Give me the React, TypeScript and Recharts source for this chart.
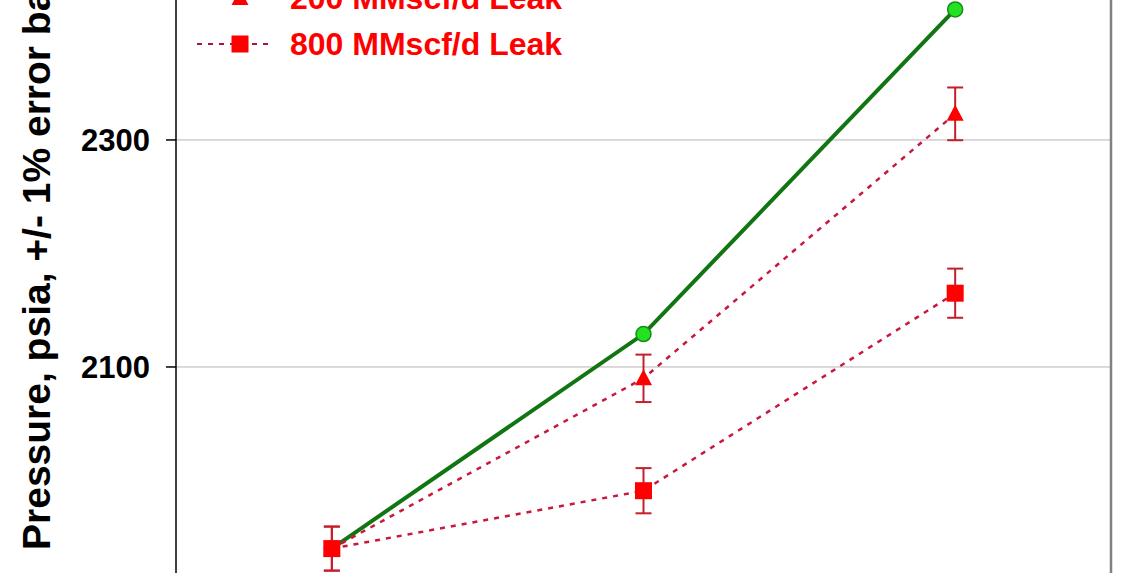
import React from "react";
import {
  LineChart,
  Line,
  XAxis,
  YAxis,
  CartesianGrid,
  ErrorBar,
  Legend,
  ReferenceLine,
} from "recharts";

// x positions of the three cases (axis itself is cropped out of the picture)
const xPositions = [1, 2, 3];
const seriesNames = ["No Leak", "200 MMscf/d Leak", "800 MMscf/d Leak"];
const noLeak = [1940, 2129, 2415];
const leak200 = [1940, 2090, 2323];
const leak800 = [1940, 1991, 2165];
const yTicks = [2100, 2300];
const errorPct = 0.01; // "+/- 1% error bars"

const data = xPositions.map((x, i) => ({
  x,
  noLeak: noLeak[i],
  leak200: leak200[i],
  leak800: leak800[i],
  err200: leak200[i] * errorPct,
  err800: leak800[i] * errorPct,
}));

const FONT = "Arial, 'Liberation Sans', sans-serif";
const GREEN = "#117511";
const RED = "#ff0000";
const RED_LINE = "#c8183e";
const BAR = "#c41e2c";
const DASH = "5 6";

const Circle = ({ cx, cy }: any) => (
  <circle cx={cx} cy={cy} r={7.5} fill="#22e222" stroke="#1a8a1a" strokeWidth={1.5} />
);
const Triangle = ({ cx, cy }: any) => (
  <polygon
    points={`${cx},${cy - 9} ${cx - 8.5},${cy + 7} ${cx + 8.5},${cy + 7}`}
    fill={RED}
  />
);
const Square = ({ cx, cy }: any) => (
  <rect x={cx - 8.5} y={cy - 8.5} width={17} height={17} fill={RED} />
);

const legendRows = [
  { name: seriesNames[0], stroke: GREEN, dash: undefined, width: 4, Marker: Circle },
  { name: seriesNames[1], stroke: "#a8144a", dash: DASH, width: 2, Marker: Triangle },
  { name: seriesNames[2], stroke: "#a8144a", dash: DASH, width: 2, Marker: Square },
];

const renderLegend = () => (
  <svg width={600} height={80} style={{ overflow: "visible" }}>
    {legendRows.map((r, i) => {
      const y = -48 + i * 46;
      return (
        <g key={r.name}>
          <line x1={197} x2={274} y1={y} y2={y} stroke={r.stroke} strokeWidth={r.width} strokeDasharray={r.dash} />
          <r.Marker cx={240} cy={y} />
          <text x={290} y={y + 11} fill={RED} fontSize={32} fontWeight="bold" fontFamily={FONT}>
            {r.name}
          </text>
        </g>
      );
    })}
  </svg>
);

const YLabel = () => (
  <text
    x={50}
    y={550}
    transform="rotate(-90, 50, 550)"
    textAnchor="start"
    fontSize={39}
    fontWeight="bold"
    fontFamily={FONT}
    fill="#000"
  >
    Pressure, psia, +/- 1% error bars
  </text>
);

export default function App() {
  return (
    <div
      style={{
        position: "absolute",
        left: 0,
        top: 0,
        width: 1145,
        height: 573,
        overflow: "hidden",
        background: "#fff",
      }}
    >
      <LineChart
        width={1145}
        height={573}
        data={data}
        margin={{ top: 0, right: 34, bottom: 0, left: 0 }}
      >
        <CartesianGrid vertical={false} horizontalValues={yTicks} stroke="#b4b4b4" strokeWidth={1} />
        <XAxis dataKey="x" type="number" domain={[0.5, 3.5]} hide />
        <YAxis
          type="number"
          domain={[1918.5, 2423.3]}
          ticks={yTicks}
          allowDataOverflow
          width={176}
          stroke="#000"
          strokeWidth={1.5}
          tickSize={10}
          tickMargin={16}
          tick={{ fontSize: 31, fontWeight: "bold", fill: "#000", fontFamily: FONT }}
          label={<YLabel />}
        />
        <ReferenceLine x={3.5} stroke="#808080" strokeWidth={2.5} ifOverflow="visible" />
        <Line
          dataKey="noLeak"
          stroke={GREEN}
          strokeWidth={4}
          isAnimationActive={false}
          dot={(p: any) => <Circle key={`c-${p.index}`} cx={p.cx} cy={p.cy} />}
        />
        <Line
          dataKey="leak200"
          stroke={RED_LINE}
          strokeWidth={2.5}
          strokeDasharray={DASH}
          isAnimationActive={false}
          dot={(p: any) => <Triangle key={`t-${p.index}`} cx={p.cx} cy={p.cy} />}
        >
          <ErrorBar dataKey="err200" direction="y" width={8} stroke={BAR} strokeWidth={2} />
        </Line>
        <Line
          dataKey="leak800"
          stroke={RED_LINE}
          strokeWidth={2.5}
          strokeDasharray={DASH}
          isAnimationActive={false}
          dot={(p: any) => <Square key={`s-${p.index}`} cx={p.cx} cy={p.cy} />}
        >
          <ErrorBar dataKey="err800" direction="y" width={8} stroke={BAR} strokeWidth={2} />
        </Line>
        <Legend
          layout="horizontal"
          align="center"
          verticalAlign="middle"
          content={renderLegend}
          wrapperStyle={{ left: 0, top: 0, width: 600, height: 80 }}
        />
      </LineChart>
    </div>
  );
}
